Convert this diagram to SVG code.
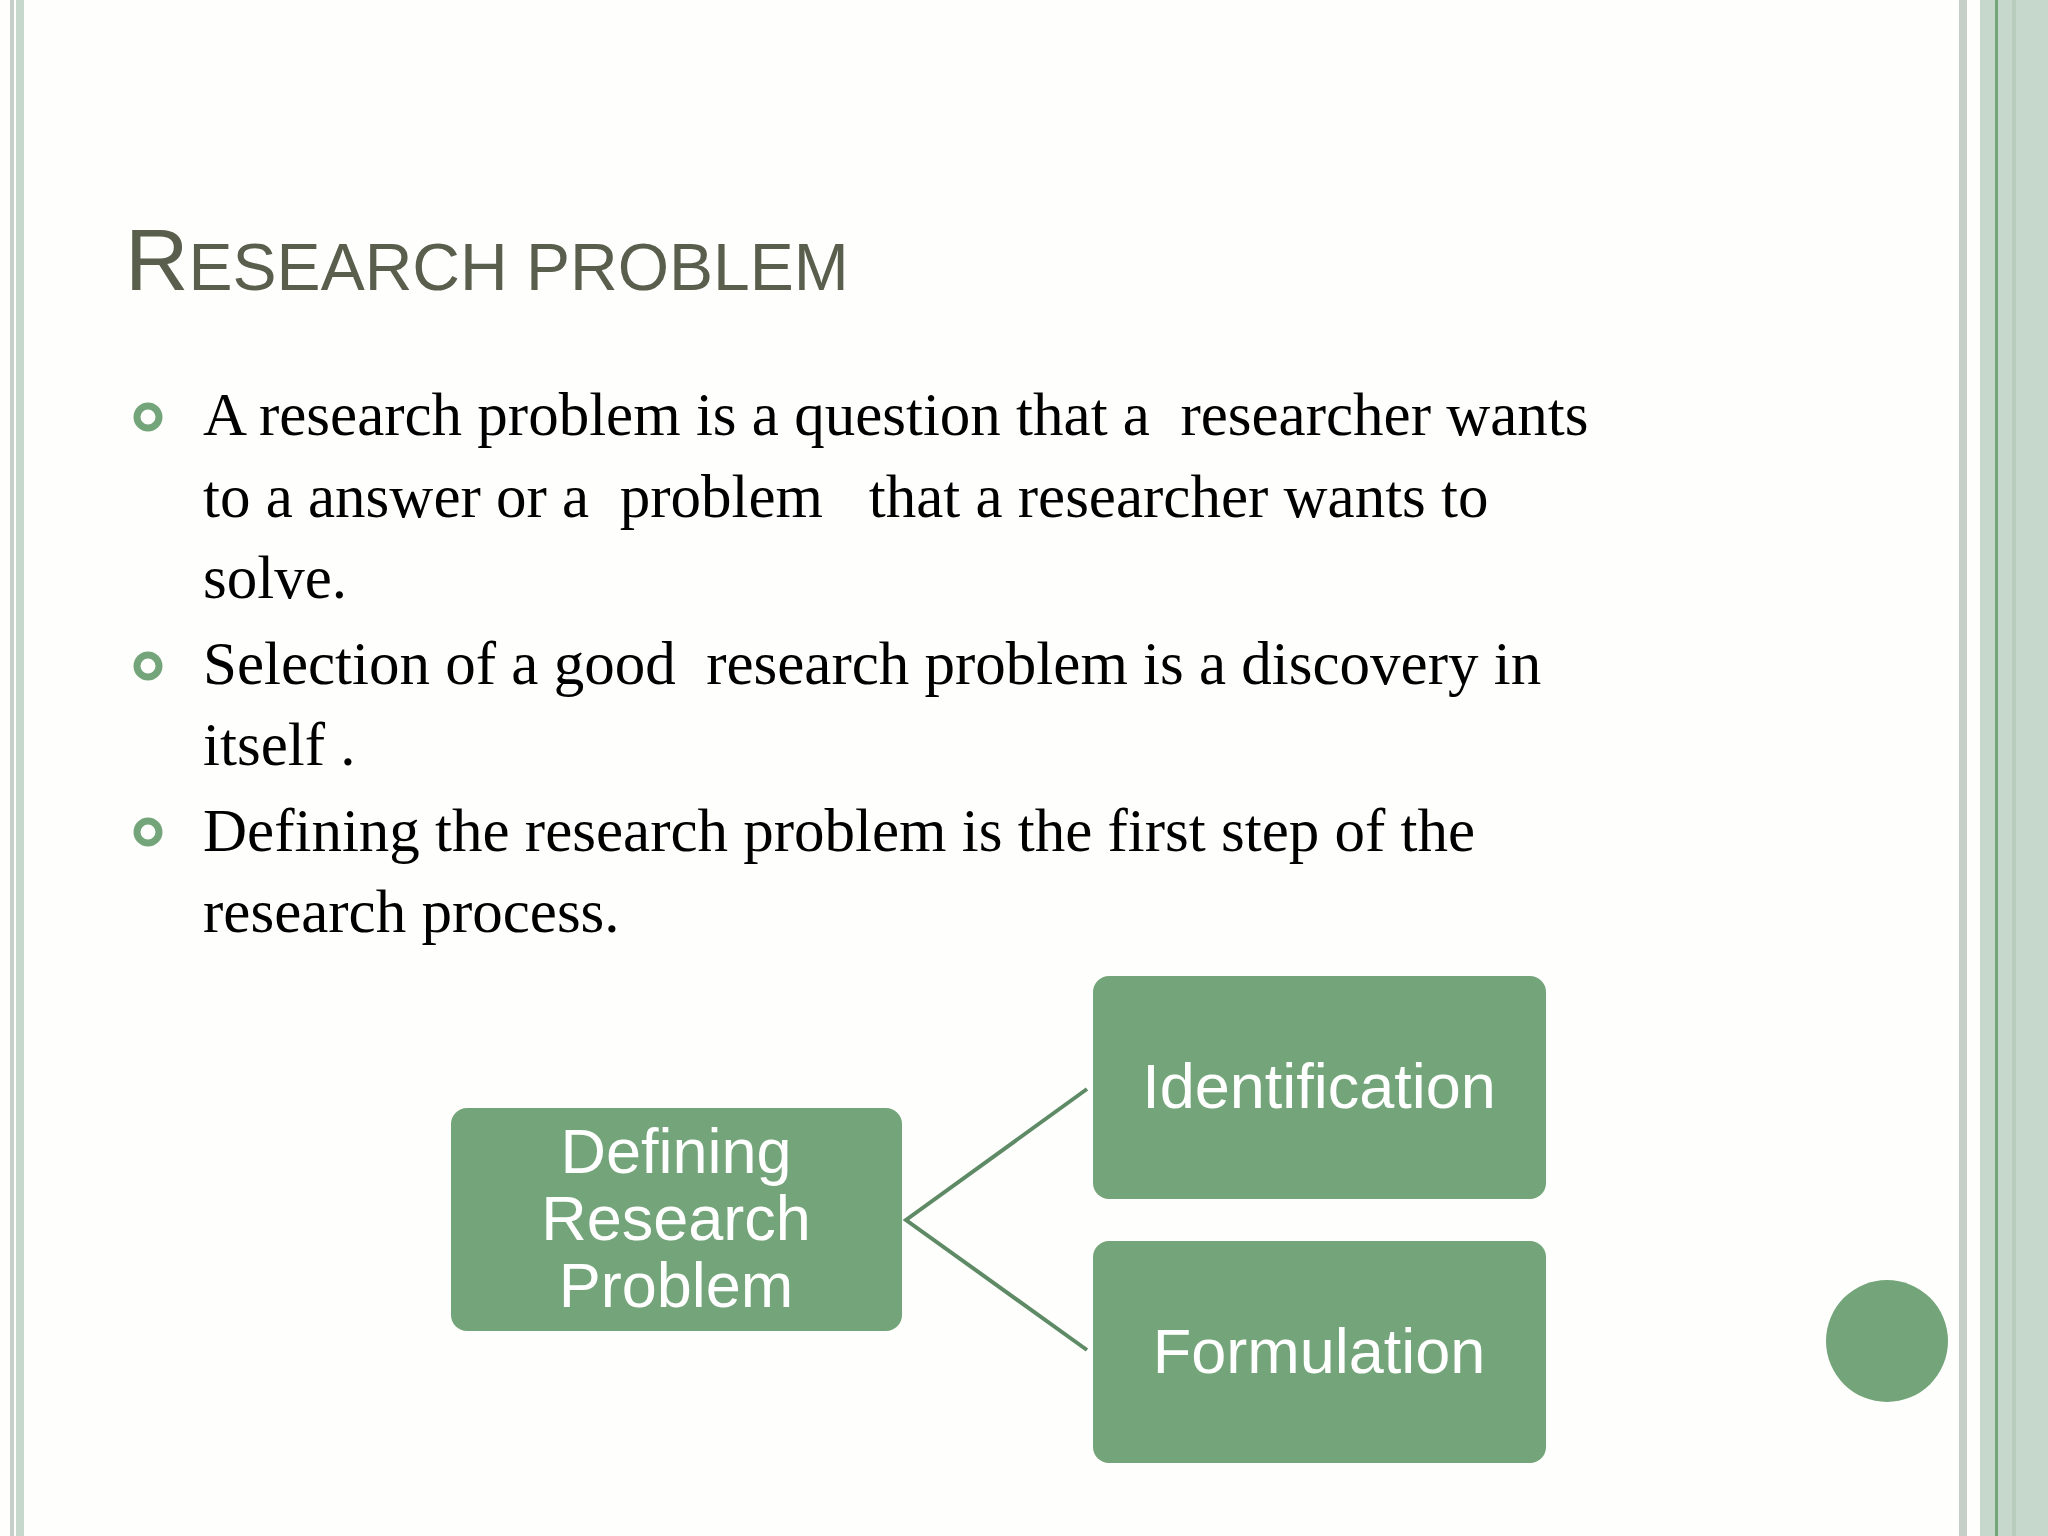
<svg xmlns="http://www.w3.org/2000/svg" width="2048" height="1536" viewBox="0 0 2048 1536">
<style>
.b{font-family:"Liberation Serif",serif;font-size:61px;fill:#000}
.n{fill:#74a57a}
.t{font-family:"Liberation Sans",Arial,sans-serif;font-size:63px;fill:#fff;text-anchor:middle}
.bul{fill:none;stroke:#74a57a;stroke-width:7}
</style>
<rect width="2048" height="1536" fill="#fefffd"/>
<rect x="10" y="0" width="4" height="1536" fill="#c5cfc7"/>
<rect x="16" y="0" width="8" height="1536" fill="#c5d8cb"/>
<rect x="1959" y="0" width="8" height="1536" fill="#c5cfc7"/>
<rect x="1980" y="0" width="68" height="1536" fill="#c5d8cb"/>
<rect x="1995" y="0" width="3" height="1536" fill="#74a57a"/>
<rect x="2012" y="0" width="4" height="1536" fill="#b9cdbf"/>
<text x="125" y="290" font-family="Liberation Sans,Arial,sans-serif" font-size="66" fill="#5a5e4c"><tspan font-size="88">R</tspan>ESEARCH PROBLEM</text>
<circle class="bul" cx="148" cy="417" r="11"/>
<circle class="bul" cx="148" cy="666" r="11"/>
<circle class="bul" cx="148" cy="832" r="11"/>
<text class="b" x="203" y="435" xml:space="preserve">A research problem is a question that a  researcher wants</text>
<text class="b" x="203" y="517" xml:space="preserve">to a answer or a  problem   that a researcher wants to</text>
<text class="b" x="203" y="598">solve.</text>
<text class="b" x="203" y="684" xml:space="preserve">Selection of a good  research problem is a discovery in</text>
<text class="b" x="203" y="765">itself .</text>
<text class="b" x="203" y="851">Defining the research problem is the first step of the</text>
<text class="b" x="203" y="932">research process.</text>
<g id="connectors" stroke="#5f8a66" stroke-width="4" fill="none">
<polyline points="1087,1089 906,1220 1087,1350"/>
</g>
<g id="defining"><rect class="n" x="451" y="1108" width="451" height="223" rx="16"/>
<text class="t" x="676" y="1173">Defining</text><text class="t" x="676" y="1240">Research</text><text class="t" x="676" y="1307">Problem</text></g>
<g id="identification"><rect class="n" x="1093" y="976" width="453" height="223" rx="16"/>
<text class="t" x="1319" y="1108">Identification</text></g>
<g id="formulation"><rect class="n" x="1093" y="1241" width="453" height="222" rx="16"/>
<text class="t" x="1319" y="1373">Formulation</text></g>
<circle cx="1887" cy="1341" r="61" fill="#74a57a"/>
</svg>
